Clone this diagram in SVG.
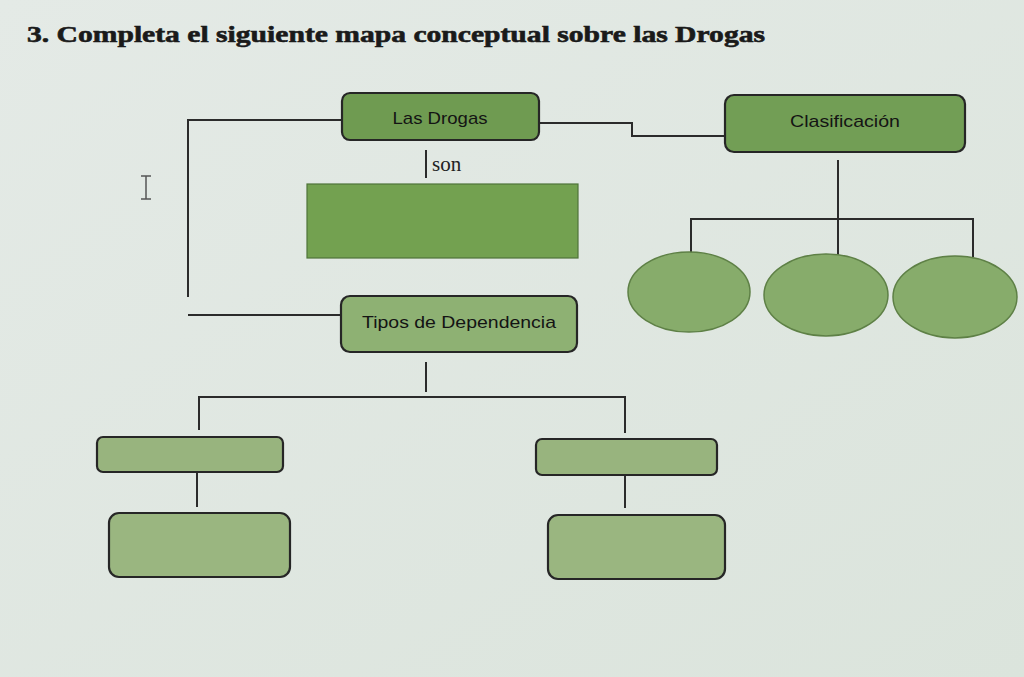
<svg xmlns="http://www.w3.org/2000/svg" width="1024" height="677" viewBox="0 0 1024 677">
<style>
.ln{stroke:#2b2b2b;stroke-width:2;fill:none}
.bx{stroke:#262626;stroke-width:2.2}
.lbl{font-family:"Liberation Sans",Arial,sans-serif;font-size:17px;fill:#141414;text-anchor:middle}
</style>
<defs>
<linearGradient id="bg" x1="0" y1="0" x2="1" y2="1">
<stop offset="0" stop-color="#e4eae6"/>
<stop offset="1" stop-color="#dbe4dc"/>
</linearGradient>
</defs>
<rect width="1024" height="677" fill="url(#bg)"/>
<text x="27" y="42" font-family="'Liberation Serif',serif" font-weight="bold" font-size="23" fill="#1a1a1a" stroke="#1a1a1a" stroke-width="0.6" textLength="738" lengthAdjust="spacingAndGlyphs">3. Completa el siguiente mapa conceptual sobre las Drogas</text>
<path d="M141 176h10M146 176v23M141 199h10" stroke="#555" stroke-width="1.5" fill="none"/>
<g id="connectors">
<path class="ln" d="M342 120H188V297"/>
<path class="ln" d="M188 315H341"/>
<path class="ln" d="M539 123H632V136H725"/>
<path class="ln" d="M426 150V178"/>
<path class="ln" d="M838 160V219"/>
<path class="ln" d="M691 253V219H973V257"/>
<path class="ln" d="M838 219V255"/>
<path class="ln" d="M426 362V392"/>
<path class="ln" d="M199 430V397H625V433"/>
<path class="ln" d="M197 473V507"/>
<path class="ln" d="M625 476V508"/>
<text x="432" y="171" font-family="'Liberation Serif',serif" font-size="21" fill="#222">son</text>
</g>
<g id="las-drogas">
<rect class="bx" x="342" y="93" width="197" height="47" rx="8" fill="#6f9b51"/>
<text class="lbl" x="440" y="124" textLength="95" lengthAdjust="spacingAndGlyphs">Las Drogas</text>
</g>
<g id="son-box">
<rect x="307" y="184" width="271" height="74" fill="#73a150" stroke="#4f7439" stroke-width="1.2"/>
</g>
<g id="clasificacion">
<rect class="bx" x="725" y="95" width="240" height="57" rx="9" fill="#729e55"/>
<text class="lbl" x="845" y="127" textLength="110" lengthAdjust="spacingAndGlyphs">Clasificación</text>
</g>
<g id="clase-1"><ellipse cx="689" cy="292" rx="61" ry="40" fill="#87ac6b" stroke="#5e8046" stroke-width="1.5"/></g>
<g id="clase-2"><ellipse cx="826" cy="295" rx="62" ry="41" fill="#87ac6b" stroke="#5e8046" stroke-width="1.5"/></g>
<g id="clase-3"><ellipse cx="955" cy="297" rx="62" ry="41" fill="#87ac6b" stroke="#5e8046" stroke-width="1.5"/></g>
<g id="tipos">
<rect class="bx" x="341" y="296" width="236" height="56" rx="9" fill="#8eb173"/>
<text class="lbl" x="459" y="328" textLength="194" lengthAdjust="spacingAndGlyphs">Tipos de Dependencia</text>
</g>
<g id="tipo-1"><rect class="bx" x="97" y="437" width="186" height="35" rx="6" fill="#98b47e"/></g>
<g id="tipo-1-desc"><rect class="bx" x="109" y="513" width="181" height="64" rx="10" fill="#9ab680"/></g>
<g id="tipo-2"><rect class="bx" x="536" y="439" width="181" height="36" rx="6" fill="#98b47e"/></g>
<g id="tipo-2-desc"><rect class="bx" x="548" y="515" width="177" height="64" rx="10" fill="#9ab680"/></g>
</svg>
